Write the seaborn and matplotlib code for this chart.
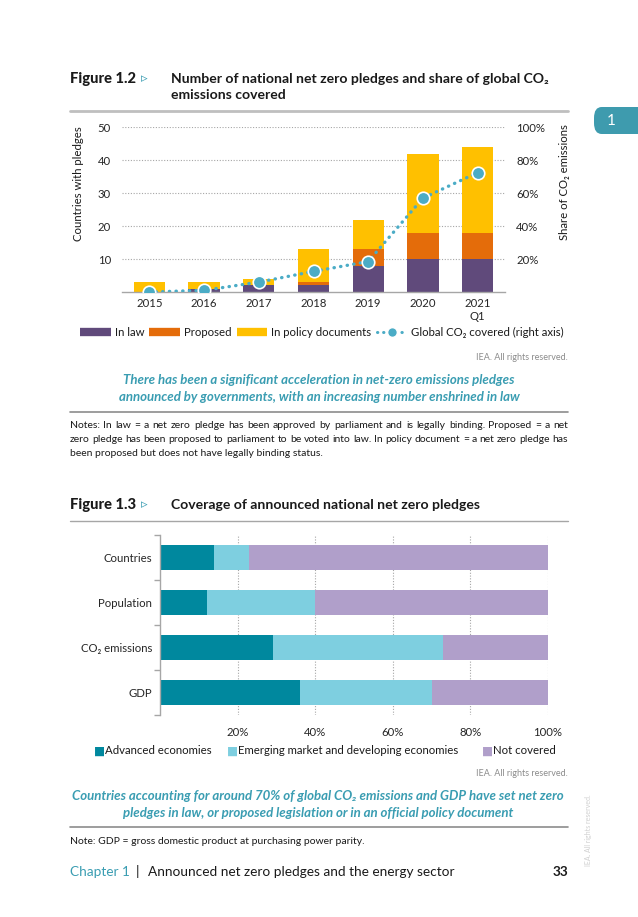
import numpy as np
import pandas as pd
import matplotlib
matplotlib.use("Agg")
import matplotlib.pyplot as plt
import seaborn as sns
from matplotlib.lines import Line2D
from matplotlib.patches import FancyBboxPatch

# ---------------- data ----------------
years = ["2015", "2016", "2017", "2018", "2019", "2020", "2021\nQ1"]
in_law = [0, 1, 2, 2, 8, 10, 10]
proposed = [0, 0, 0, 1, 5, 8, 8]
in_policy = [3, 2, 2, 10, 9, 24, 26]
co2_share = [0, 1, 6, 12.5, 18.5, 57, 72.5]

cov_cats = ["Countries", "Population", "CO₂ emissions", "GDP"]
advanced = [14, 12, 29, 36]
emerging = [9, 28, 44, 34]
not_covered = [77, 60, 27, 30]

left_ticks = [10, 20, 30, 40, 50]
right_ticks = [20, 40, 60, 80, 100]
cov_ticks = [20, 40, 60, 80, 100]

# ---------------- style ----------------
PUR, ORA, YEL = "#604A7B", "#E46C0A", "#FFC000"
LINE = "#4BACC6"
ADV, EMG, NC = "#00889E", "#7ECFE0", "#B09FCA"
TEAL = "#3A9DB2"
GRID = "#A6A6A6"
DOTS = (0, (0.1, 1.9))

sns.set_theme(style="white")
plt.rcParams['font.family'] = ['Lato', 'DejaVu Sans']
plt.rcParams['text.color'] = '#1a1a1a'

W, H = 638, 917
fig = plt.figure(figsize=(W / 100, H / 100), dpi=100)
renderer = fig.canvas.get_renderer()


def fx(x):
    return x / W


def fy(y):
    return 1 - y / H


def hline(x0, x1, y, color, lw):
    fig.add_artist(Line2D([fx(x0), fx(x1)], [fy(y), fy(y)], color=color, lw=lw,
                          transform=fig.transFigure))


def justified(x0, x1, y, line, size):
    words = line.split(" ")
    arts = [fig.text(0, fy(y), w, fontsize=size, ha="left", va="center") for w in words]
    widths = [a.get_window_extent(renderer).width for a in arts]
    gap = ((x1 - x0) - sum(widths)) / (len(words) - 1)
    x = x0
    for a, wd in zip(arts, widths):
        a.set_x(fx(x))
        x += wd + gap


# ---------------- header 1 ----------------
fig.text(fx(70), fy(79), "Figure 1.2", fontsize=10.6, fontweight="black", va="center")
fig.text(fx(141), fy(79), "▹", fontsize=9.5, color=TEAL, va="center", family="DejaVu Sans")
fig.text(fx(171), fy(79), "Number of national net zero pledges and share of global CO₂",
         fontsize=10.1, fontweight="bold", va="center")
fig.text(fx(171), fy(95), "emissions covered", fontsize=10.1, fontweight="bold", va="center")
hline(70, 568, 110.5, "#BFBFBF", 2.0)

# ---------------- chart 1 ----------------
ax = fig.add_axes([fx(122), fy(292), fx(505) - fx(122), fy(127.3) - fy(292)])
df1 = pd.DataFrame({"year": years, "law": in_law, "prop": proposed, "pol": in_policy})
df1["t2"] = df1["law"] + df1["prop"]
df1["t3"] = df1["t2"] + df1["pol"]
for col, c in [("t3", YEL), ("t2", ORA), ("law", PUR)]:
    sns.barplot(data=df1, x="year", y=col, color=c, saturation=1, width=0.57,
                errorbar=None, ax=ax, linewidth=0)
ax.set_ylim(0, 50)
ax.set_xlim(-0.5, 6.5)
ax.set_yticks(left_ticks)
ax.set_yticklabels([str(t) for t in left_ticks])
ax.yaxis.grid(True, linestyle=(0, (1, 1.5)), color=GRID, lw=0.8)
ax.set_axisbelow(True)
for s in ["top", "left", "right"]:
    ax.spines[s].set_visible(False)
ax.spines["bottom"].set_color(GRID)
ax.spines["bottom"].set_linewidth(1)
ax.tick_params(axis="y", length=0, pad=8, labelsize=8.2)
ax.tick_params(axis="x", length=0, pad=4.5, labelsize=8.2)
ax.set_xlabel("")
ax.set_ylabel("")
for lab in ax.get_xticklabels():
    lab.set_linespacing(1.2)

ax2 = ax.twinx()
sns.lineplot(x=np.arange(len(co2_share)), y=co2_share, ax=ax2, color=LINE,
             linestyle=DOTS, lw=2.4, marker="o", markersize=9,
             markeredgecolor="white", markeredgewidth=1.2, dash_capstyle="round")
ax2.set_ylim(0, 100)
ax2.set_xlim(-0.5, 6.5)
ax2.set_yticks(right_ticks)
ax2.set_yticklabels([f"{t}%" for t in right_ticks])
ax2.tick_params(axis="y", length=0, pad=8, labelsize=8.2)
for s in ["top", "left", "right", "bottom"]:
    ax2.spines[s].set_visible(False)
ax2.set_ylabel("")

fig.text(fx(78), fy(184), "Countries with pledges", rotation=90, fontsize=8.2,
         va="center", ha="center")
fig.text(fx(564), fy(182), "Share of CO₂ emissions", rotation=90, fontsize=8.2,
         va="center", ha="center")

handles = [Line2D([], [], color=PUR, lw=6, solid_capstyle="butt"),
           Line2D([], [], color=ORA, lw=6, solid_capstyle="butt"),
           Line2D([], [], color=YEL, lw=6, solid_capstyle="butt"),
           Line2D([], [], color=LINE, lw=2.2, linestyle=DOTS, marker="o",
                  markersize=7, markeredgecolor="white", dash_capstyle="round")]
labels = ["In law", "Proposed", "In policy documents", "Global CO₂ covered (right axis)"]
fig.legend(handles, labels, loc="center", bbox_to_anchor=(fx(322), fy(332)), ncol=4,
           frameon=False, fontsize=8.2, handlelength=2.7, handletextpad=0.35,
           columnspacing=0.45, borderaxespad=0, borderpad=0)

fig.text(fx(568), fy(357), "IEA. All rights reserved.", fontsize=6.5, color="#8C8C8C",
         ha="right", va="center")
fig.text(fx(319), fy(380), "There has been a significant acceleration in net-zero emissions pledges",
         fontsize=9.5, color=TEAL, fontweight="bold", style="italic", ha="center", va="center")
fig.text(fx(319), fy(397), "announced by governments, with an increasing number enshrined in law",
         fontsize=9.5, color=TEAL, fontweight="bold", style="italic", ha="center", va="center")
hline(70, 568, 411.7, "#8C8C8C", 1.2)
notes = ["Notes: In law = a net zero pledge has been approved by parliament and is legally binding. Proposed = a net",
         "zero pledge has been proposed to parliament to be voted into law. In policy document = a net zero pledge has",
         "been proposed but does not have legally binding status."]
NOTE_SIZE = 7.45
for i, t in enumerate(notes):
    if i < len(notes) - 1:
        justified(70, 568, 426 + 13.7 * i, t, NOTE_SIZE)
    else:
        fig.text(fx(70), fy(426 + 13.7 * i), t, fontsize=NOTE_SIZE, ha="left", va="center")

# ---------------- header 2 ----------------
fig.text(fx(70), fy(505), "Figure 1.3", fontsize=10.6, fontweight="black", va="center")
fig.text(fx(141), fy(505), "▹", fontsize=9.5, color=TEAL, va="center", family="DejaVu Sans")
fig.text(fx(171), fy(505), "Coverage of announced national net zero pledges",
         fontsize=10.1, fontweight="bold", va="center")
hline(70, 568, 520.5, "#A6A6A6", 1.0)

# ---------------- chart 2 ----------------
ax3 = fig.add_axes([fx(160), fy(715), fx(548) - fx(160), fy(535) - fy(715)])
df2 = pd.DataFrame({"cat": cov_cats, "adv": advanced, "em": emerging, "nc": not_covered})
df2["c2"] = df2["adv"] + df2["em"]
df2["c3"] = df2["c2"] + df2["nc"]
for col, c in [("c3", NC), ("c2", EMG), ("adv", ADV)]:
    sns.barplot(data=df2, y="cat", x=col, orient="y", color=c, saturation=1, width=0.57,
                errorbar=None, ax=ax3, linewidth=0)
ax3.set_xlim(0, 100)
ax3.set_ylim(3.5, -0.5)
ax3.set_xticks(cov_ticks)
ax3.set_xticklabels([f"{t}%" for t in cov_ticks])
ax3.xaxis.grid(True, linestyle=(0, (1, 1.5)), color=GRID, lw=0.8)
ax3.set_axisbelow(True)
for s in ["top", "right", "bottom"]:
    ax3.spines[s].set_visible(False)
ax3.spines["left"].set_color(GRID)
ax3.spines["left"].set_linewidth(1)
ax3.set_yticks([-0.5, 0.5, 1.5, 2.5, 3.5], minor=True)
ax3.tick_params(axis="y", which="minor", length=4, color=GRID, width=1, left=True)
ax3.tick_params(axis="y", which="major", length=0, pad=5.5, labelsize=8.2)
ax3.tick_params(axis="x", length=0, pad=9, labelsize=8.2)
ax3.set_xlabel("")
ax3.set_ylabel("")

leg2 = [(94, "Advanced economies", ADV), (227, "Emerging market and developing economies", EMG),
        (482, "Not covered", NC)]
for x, t, c in leg2:
    fig.text(fx(x), fy(751), "■", color=c, fontsize=8.5, va="center", ha="left",
             family="DejaVu Sans")
    fig.text(fx(x + 11), fy(751), t, fontsize=8.2, va="center", ha="left")

fig.text(fx(568), fy(773), "IEA. All rights reserved.", fontsize=6.5, color="#8C8C8C",
         ha="right", va="center")
fig.text(fx(318), fy(796), "Countries accounting for around 70% of global CO₂ emissions and GDP have set net zero",
         fontsize=9.5, color=TEAL, fontweight="bold", style="italic", ha="center", va="center")
fig.text(fx(318), fy(813), "pledges in law, or proposed legislation or in an official policy document",
         fontsize=9.5, color=TEAL, fontweight="bold", style="italic", ha="center", va="center")
hline(70, 568, 827, "#8C8C8C", 1.2)
fig.text(fx(70), fy(841.5), "Note: GDP = gross domestic product at purchasing power parity.",
         fontsize=NOTE_SIZE, ha="left", va="center")

# ---------------- footer & tab ----------------
fig.text(fx(70), fy(872), "Chapter 1", fontsize=9.8, color=TEAL, va="center")
fig.text(fx(136), fy(872), "|", fontsize=9.8, va="center")
fig.text(fx(148), fy(872), "Announced net zero pledges and the energy sector", fontsize=9.8,
         va="center")
fig.text(fx(568), fy(872), "33", fontsize=9.8, fontweight="bold", ha="right", va="center")
fig.text(fx(588), fy(830), "IEA. All rights reserved.", rotation=90, fontsize=5,
         color="#D0D0D0", ha="center", va="center")

tab = FancyBboxPatch((fx(594), fy(134)), fx(60), fy(107) - fy(134),
                     boxstyle="round,pad=0,rounding_size=0.012", transform=fig.transFigure,
                     facecolor="#3E9BAE", edgecolor="none")
fig.add_artist(tab)
fig.text(fx(611), fy(121), "1", fontsize=11, color="white", ha="center", va="center")

fig.savefig("out.png", dpi=100)
